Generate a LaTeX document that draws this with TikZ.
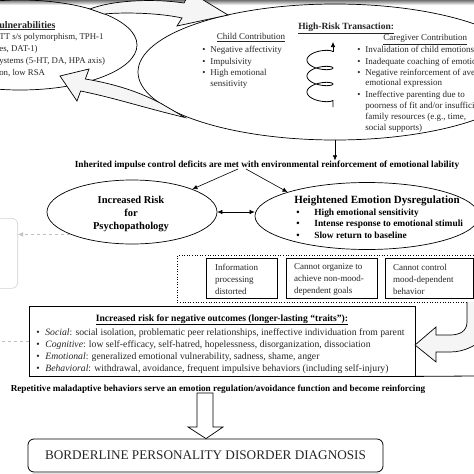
\documentclass[tikz,border=0pt]{standalone}
\usepackage{fontspec}
\setmainfont{Liberation Serif}
\usetikzlibrary{arrows.meta,shapes.geometric,calc}
\begin{document}
\begin{tikzpicture}[x=1pt,y=-1pt,line width=0.7pt,
  txt/.style={inner sep=0pt,text=black!85,font=\fontsize{9}{11}\selectfont,anchor=base west},
  lft/.style={inner sep=0pt,text=black!85,font=\fontsize{8.8}{12}\selectfont,anchor=base west},
  bld/.style={inner sep=0pt,text=black,font=\bfseries\fontsize{9.4}{10}\selectfont},
  band/.style={fill=black!4,draw=black,line width=0.7pt,line join=miter},
  arr/.style={-{Latex[length=5pt,width=4.5pt]},line width=0.6pt},
  ell/.style={draw,ellipse,inner sep=0pt},
  sbox/.style={draw,line width=0.6pt,inner sep=0pt,minimum height=40pt},
  btxt/.style={inner sep=0pt,text=black!85,font=\fontsize{9}{12}\selectfont,align=left,anchor=west}]
\useasboundingbox (0,0) rectangle (474,474);
\fill[white] (0,0) rectangle (474,474);
\shade[top color=black!55,bottom color=white] (0,0) rectangle (474,5);

% top ellipses
\node[ell,minimum width=234pt,minimum height=90pt] (bio) at (20,45) {};
\node[ell,minimum width=394pt,minimum height=136pt] (trans) at (335,72) {};

% bands (cycle arrows)
\draw[band] (90,9) .. controls (110,1) and (150,-2) .. (184,3) -- (190,-8) -- (228,15) -- (177,26) -- (182,18) .. controls (160,13) and (125,12) .. (104,14) -- cycle;
\draw[band] (162,104) .. controls (140,92) and (115,84) .. (85.4,79) -- (89,69) -- (60,76) -- (77,101) -- (80.6,91) .. controls (115,98) and (145,108) .. (185,117.5) -- cycle;

% left (clipped) vulnerabilities text
\node[lft,font=\bfseries\fontsize{10}{12}\selectfont] (v0) at (-1,28) {\underline{ulnerabilities}};
\node[lft] (v1) at (-1,39.5) {TT s/s polymorphism, TPH-1};
\node[lft] (v2) at (-1,51.5) {es, DAT-1)};
\node[lft] (v3) at (-1,63.5) {ystems (5-HT, DA, HPA axis)};
\node[lft] (v4) at (-1,75.5) {on, low RSA};

% child contribution
\node[txt,anchor=base] (cc) at (251,39.5) {\underline{Child Contribution}};
\foreach \t/\y in {Negative affectivity/52,Impulsivity/64,High emotional/75.5}{
  \node[txt] at (202,\y) {\textbullet};
  \node[txt] at (210,\y) {\t};}
\node[txt] (cc4) at (210,86.5) {sensitivity};

% high-risk transaction
\node[txt,anchor=base west,font=\bfseries\fontsize{9.5}{11}\selectfont] (hrt) at (298,29.5) {\underline{High-Risk Transaction:}};
\node[txt] (cg) at (383,40.5) {\underline{Caregiver Contribution}};
\foreach \t/\y in {Invalidation of child emotions/52,Inadequate coaching of emotions/64,Negative reinforcement of aversive/75.5,Ineffective parenting due to/97}{
  \node[txt] at (357,\y) {\textbullet};
  \node[txt] at (365,\y) {\t};}
\node[txt] at (365,85.5) {emotional expression};
\node[txt] at (365,108) {poorness of fit and/or insufficient};
\node[txt] at (365,119) {family resources (e.g., time,};
\node[txt] at (365,130) {social supports)};

% coil
\draw[line width=0.8pt] (333,107) -- (333,100) plot[domain=0:1080,samples=150,variable=\t] ({320+13*cos(\t)},{100-\t/22.5+5*sin(\t)});
\draw[arr] (333,52) -- (333,42);

% inherited line
\node[bld,font=\bfseries\fontsize{9.3}{10}\selectfont] (inh) at (267,165) {Inherited impulse control deficits are met with environmental reinforcement of emotional lability};
\draw[arr] (trans.south) -- (trans.south |- inh.north);

% middle ellipses
\node[ell,minimum width=170pt,minimum height=64pt] (risk) at (132,212) {};
\node[inner sep=0pt,align=center,font=\bfseries\fontsize{10.5}{12.6}\selectfont] (risktxt) at (131,214) {Increased Risk\\for\\Psychopathology};
\node[ell,minimum width=224pt,minimum height=67pt] (hed) at (367,216) {};
\node[inner sep=0pt,font=\bfseries\fontsize{11}{12}\selectfont,anchor=base] (hedt) at (377,203) {Heightened Emotion Dysregulation};
\foreach \t/\y in {High emotional sensitivity/215,Intense response to emotional stimuli/226.5,Slow return to baseline/238}{
  \node[bld,anchor=base west] at (296,\y) {\textbullet};
  \node[bld,anchor=base west] at (314,\y) {\t};}

\coordinate (s1) at (238,169);
\coordinate (s2) at (246,169);
\draw[arr] (s1) -- (risk.north east);
\draw[arr] (s2) -- (hed.north west);
\draw[{Latex[length=5pt,width=4.5pt]}-{Latex[length=5pt,width=4.5pt]},line width=0.6pt] (risk.east) -- (risk.east -| hed.west);

% gray box and dashed arrow
\node[draw=black!18,rounded corners=6pt,minimum width=40pt,minimum height=70pt,inner sep=0pt,anchor=north east,line width=0.6pt] (gbox) at (18,218) {};
\draw[black!25,dashed,-{Latex[length=5pt,width=4.5pt]},line width=0.6pt] (risk.200) -- (risk.200 -| gbox.east);

% dotted box and three boxes
\node[draw,dotted,line width=0.6pt,inner sep=0pt,minimum width=313pt,minimum height=47pt,anchor=north west] (dbox) at (177,255) {};
\node[sbox,minimum width=71pt] (b1) at (241.5,278) {};
\node[sbox,minimum width=91pt] (b2) at (331.5,278) {};
\node[sbox,minimum width=88pt] (b3) at (429,278) {};
\node[btxt] at ($(b1.west)+(9,1.5)$) {Information\\processing\\distorted};
\node[btxt] at ($(b2.west)+(8,1.5)$) {Cannot organize to\\achieve non-mood-\\dependent goals};
\node[btxt] at ($(b3.west)+(8,1.5)$) {Cannot control\\mood-dependent\\behavior};

% outcome box
\node[draw,line width=0.8pt,inner sep=0pt,minimum width=386pt,minimum height=70pt] (out) at (222,341) {};
\node[bld,anchor=base,font=\bfseries\fontsize{9.6}{10}\selectfont] (outt) at (222,321) {\underline{Increased risk for negative outcomes (longer-lasting “traits”):}};
\foreach \a/\b/\y in {Social/{social isolation, problematic peer relationships, ineffective individuation from parent}/335.5,Cognitive/{low self-efficacy, self-hatred, hopelessness, disorganization, dissociation}/347.5,Emotional/{generalized emotional vulnerability, sadness, shame, anger}/359.5,Behavioral/{withdrawal, avoidance, frequent impulsive behaviors (including self-injury)}/371.5}{
  \node[txt,font=\fontsize{9.7}{10}\selectfont] at (36,\y) {\textbullet};
  \node[txt,font=\fontsize{9.7}{10}\selectfont] at (45,\y) {\textit{\a}: \b};}
\coordinate (lf) at (0,341);
\draw[black!25,dashed,line width=0.6pt] (out.west) -- (lf);
\coordinate (rg) at (476,376);
\draw[line width=0.8pt] (out.south east) -- (rg);

% right band arrow into outcome box
\fill[black!4] (467,302) -- (467,322) .. controls (467,331) and (460,335) .. (450,335) -- (436,335) -- (436,327) -- (415,345) -- (436,362) -- (436,352) -- (450,352) .. controls (465,352) and (480,345) .. (490,330) -- (490,302) -- cycle;
\draw[line width=0.7pt] (467,302) -- (467,322) .. controls (467,331) and (460,335) .. (450,335) -- (436,335) -- (436,327) -- (415,345) -- (436,362) -- (436,352) -- (450,352) .. controls (465,352) and (480,345) .. (490,330);

% repetitive line
\node[bld,font=\bfseries\fontsize{9.2}{10}\selectfont] (rep) at (218,389) {Repetitive maladaptive behaviors serve an emotion regulation/avoidance function and become reinforcing};

% block arrow and BPD box
\node[draw,rounded corners=6pt,line width=0.8pt,minimum width=355pt,minimum height=33pt,inner sep=0pt,font=\fontsize{13.2}{15}\selectfont,text=black!85] (bpd) at (205.5,455.5) {BORDERLINE PERSONALITY DISORDER DIAGNOSIS};
\draw[fill=white,line width=0.7pt] (197,393) -- (213,393) -- (213,427) -- (223,427) -- (bpd.north -| 206,0) -- (188,427) -- (197,427) -- cycle;
\fill[black!12] (32,472.5) rectangle (380,474);
\end{tikzpicture}
\end{document}
